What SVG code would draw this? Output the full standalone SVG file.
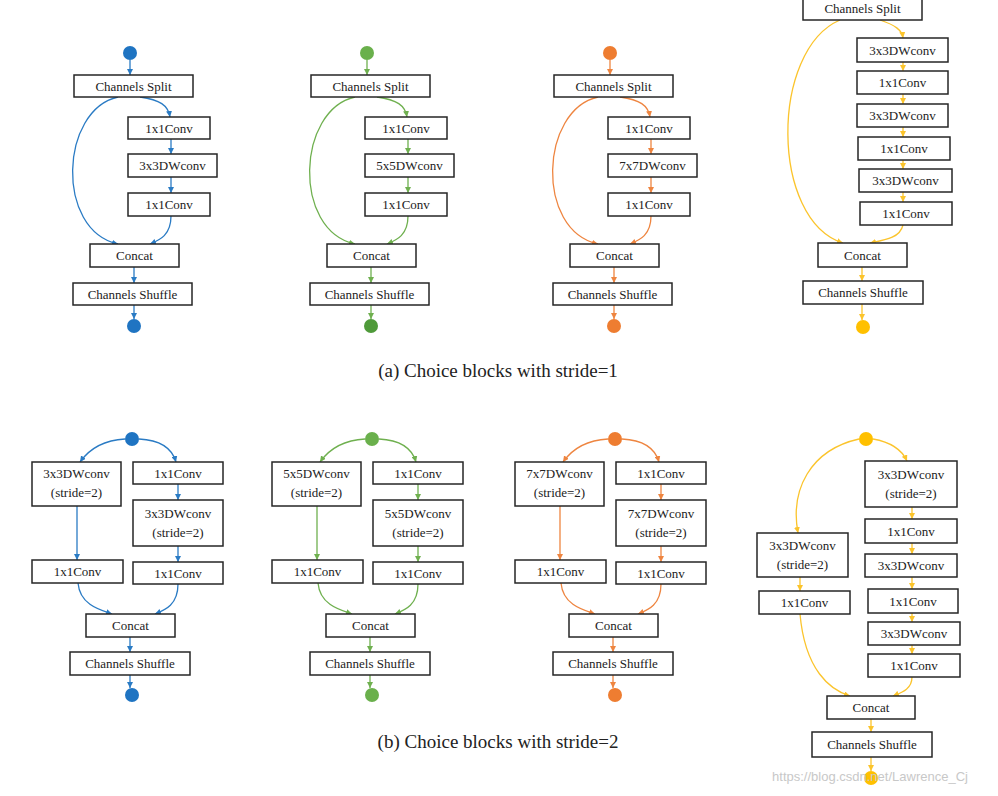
<svg xmlns="http://www.w3.org/2000/svg" width="998" height="796" viewBox="0 0 998 796">
<style>
.b rect{fill:#fff;stroke:#262626;stroke-width:1.5}
text{font-family:"Liberation Serif",serif;font-size:13px;text-anchor:middle;fill:#222}
.cap{font-size:19px}
.c path,.c line{fill:none;stroke-width:1.3}
.blue{stroke:#2a7bc4;marker-end:url(#mb)}
.green{stroke:#6fb04f;marker-end:url(#mg)}
.orange{stroke:#ee8540;marker-end:url(#mo)}
.yellow{stroke:#fbc42c;marker-end:url(#my)}
</style>
<defs>
<marker id="mb" viewBox="0 0 6 6" refX="6" refY="3" markerWidth="6" markerHeight="6" markerUnits="userSpaceOnUse" orient="auto"><path d="M0,0L6,3L0,6z" fill="#2a7bc4"/></marker>
<marker id="mg" viewBox="0 0 6 6" refX="6" refY="3" markerWidth="6" markerHeight="6" markerUnits="userSpaceOnUse" orient="auto"><path d="M0,0L6,3L0,6z" fill="#6fb04f"/></marker>
<marker id="mo" viewBox="0 0 6 6" refX="6" refY="3" markerWidth="6" markerHeight="6" markerUnits="userSpaceOnUse" orient="auto"><path d="M0,0L6,3L0,6z" fill="#ee8540"/></marker>
<marker id="my" viewBox="0 0 6 6" refX="6" refY="3" markerWidth="6" markerHeight="6" markerUnits="userSpaceOnUse" orient="auto"><path d="M0,0L6,3L0,6z" fill="#fbc42c"/></marker>
</defs>
<rect width="998" height="796" fill="#fff"/>

<!-- connectors -->
<g id="connectors" class="c">
<g id="conn-a1">
<line class="blue" x1="130" y1="60" x2="130" y2="75"/>
<path class="blue" d="M118,97 C60,110 55,230 118,244"/>
<path class="blue" d="M140,97 C160,100 168,105 170,117"/>
<line class="blue" x1="171" y1="139" x2="171" y2="154"/>
<line class="blue" x1="171" y1="177" x2="171" y2="193"/>
<path class="blue" d="M171,216 C171,235 160,240 150,244"/>
<line class="blue" x1="134" y1="267" x2="134" y2="283"/>
<line class="blue" x1="134" y1="305" x2="134" y2="319"/>
</g>
<g id="conn-a2" transform="translate(237,0)">
<line class="green" x1="130" y1="60" x2="130" y2="75"/>
<path class="green" d="M118,97 C60,110 55,230 118,244"/>
<path class="green" d="M140,97 C160,100 168,105 170,117"/>
<line class="green" x1="171" y1="139" x2="171" y2="154"/>
<line class="green" x1="171" y1="177" x2="171" y2="193"/>
<path class="green" d="M171,216 C171,235 160,240 150,244"/>
<line class="green" x1="134" y1="267" x2="134" y2="283"/>
<line class="green" x1="134" y1="305" x2="134" y2="319"/>
</g>
<g id="conn-a3" transform="translate(480,0)">
<line class="orange" x1="130" y1="60" x2="130" y2="75"/>
<path class="orange" d="M118,97 C60,110 55,230 118,244"/>
<path class="orange" d="M140,97 C160,100 168,105 170,117"/>
<line class="orange" x1="171" y1="139" x2="171" y2="154"/>
<line class="orange" x1="171" y1="177" x2="171" y2="193"/>
<path class="orange" d="M171,216 C171,235 160,240 150,244"/>
<line class="orange" x1="134" y1="267" x2="134" y2="283"/>
<line class="orange" x1="134" y1="305" x2="134" y2="319"/>
</g>
<g id="conn-a4">
<path class="yellow" d="M840,20 C770,50 770,220 843,243"/>
<path class="yellow" d="M880,20 C895,25 902,30 903,38"/>
<line class="yellow" x1="903" y1="62" x2="903" y2="71"/>
<line class="yellow" x1="903" y1="94" x2="903" y2="104"/>
<line class="yellow" x1="903" y1="127" x2="903" y2="137"/>
<line class="yellow" x1="903" y1="160" x2="903" y2="169"/>
<line class="yellow" x1="903" y1="192" x2="903" y2="202"/>
<path class="yellow" d="M903,225 C900,238 885,240 870,243"/>
<line class="yellow" x1="862" y1="267" x2="862" y2="281"/>
<line class="yellow" x1="862" y1="304" x2="862" y2="320"/>
</g>
<g id="conn-b1">
<path class="blue" d="M125,439 C105,440 90,448 80,462"/>
<path class="blue" d="M139,439 C160,440 172,448 176,462"/>
<line class="blue" x1="77" y1="506" x2="77" y2="560"/>
<line class="blue" x1="178" y1="484" x2="178" y2="500"/>
<line class="blue" x1="178" y1="546" x2="178" y2="562"/>
<path class="blue" d="M78,583 C80,605 100,610 112,614"/>
<path class="blue" d="M178,584 C178,605 165,610 155,614"/>
<line class="blue" x1="130" y1="637" x2="130" y2="652"/>
<line class="blue" x1="130" y1="675" x2="130" y2="688"/>
</g>
<g id="conn-b2" transform="translate(240,0)">
<path class="green" d="M125,439 C105,440 90,448 80,462"/>
<path class="green" d="M139,439 C160,440 172,448 176,462"/>
<line class="green" x1="77" y1="506" x2="77" y2="560"/>
<line class="green" x1="178" y1="484" x2="178" y2="500"/>
<line class="green" x1="178" y1="546" x2="178" y2="562"/>
<path class="green" d="M78,583 C80,605 100,610 112,614"/>
<path class="green" d="M178,584 C178,605 165,610 155,614"/>
<line class="green" x1="130" y1="637" x2="130" y2="652"/>
<line class="green" x1="130" y1="675" x2="130" y2="688"/>
</g>
<g id="conn-b3" transform="translate(483,0)">
<path class="orange" d="M125,439 C105,440 90,448 80,462"/>
<path class="orange" d="M139,439 C160,440 172,448 176,462"/>
<line class="orange" x1="77" y1="506" x2="77" y2="560"/>
<line class="orange" x1="178" y1="484" x2="178" y2="500"/>
<line class="orange" x1="178" y1="546" x2="178" y2="562"/>
<path class="orange" d="M78,583 C80,605 100,610 112,614"/>
<path class="orange" d="M178,584 C178,605 165,610 155,614"/>
<line class="orange" x1="130" y1="637" x2="130" y2="652"/>
<line class="orange" x1="130" y1="675" x2="130" y2="688"/>
</g>
<g id="conn-b4">
<path class="yellow" d="M859,439 C810,450 790,490 798,533"/>
<line class="yellow" x1="800" y1="577" x2="800" y2="591"/>
<path class="yellow" d="M800,614 C805,670 830,690 850,696"/>
<path class="yellow" d="M873,439 C890,442 902,450 907,461"/>
<line class="yellow" x1="912" y1="507" x2="912" y2="519"/>
<line class="yellow" x1="912" y1="543" x2="912" y2="554"/>
<line class="yellow" x1="912" y1="577" x2="912" y2="589"/>
<line class="yellow" x1="912" y1="613" x2="912" y2="622"/>
<line class="yellow" x1="912" y1="645" x2="912" y2="654"/>
<path class="yellow" d="M912,677 C912,690 900,693 893,696"/>
<line class="yellow" x1="871" y1="719" x2="871" y2="732"/>
<line class="yellow" x1="871" y1="757" x2="871" y2="771"/>
</g>
</g>

<!-- block a1 -->
<g id="a1" class="b">
<circle cx="130" cy="53" r="7" fill="#1f74c2"/>
<rect x="74" y="75" width="119" height="22"/><text x="133.5" y="91">Channels Split</text>
<rect x="128" y="117" width="82" height="22"/><text x="169" y="133">1x1Conv</text>
<rect x="128" y="154" width="89" height="23"/><text x="172.5" y="170">3x3DWconv</text>
<rect x="128" y="193" width="82" height="23"/><text x="169" y="209">1x1Conv</text>
<rect x="90" y="244" width="89" height="23"/><text x="134.5" y="260">Concat</text>
<rect x="73" y="283" width="119" height="22"/><text x="132.5" y="299">Channels Shuffle</text>
<circle cx="134" cy="326" r="7" fill="#1f74c2"/>
</g>
<g id="a2" class="b" transform="translate(237,0)">
<circle cx="130" cy="53" r="7" fill="#6ab04c"/>
<rect x="74" y="75" width="119" height="22"/><text x="133.5" y="91">Channels Split</text>
<rect x="128" y="117" width="82" height="22"/><text x="169" y="133">1x1Conv</text>
<rect x="128" y="154" width="89" height="23"/><text x="172.5" y="170">5x5DWconv</text>
<rect x="128" y="193" width="82" height="23"/><text x="169" y="209">1x1Conv</text>
<rect x="90" y="244" width="89" height="23"/><text x="134.5" y="260">Concat</text>
<rect x="73" y="283" width="119" height="22"/><text x="132.5" y="299">Channels Shuffle</text>
<circle cx="134" cy="326" r="7" fill="#4f9a3a"/>
</g>
<g id="a3" class="b" transform="translate(480,0)">
<circle cx="130" cy="53" r="7" fill="#ee7d31"/>
<rect x="74" y="75" width="119" height="22"/><text x="133.5" y="91">Channels Split</text>
<rect x="128" y="117" width="82" height="22"/><text x="169" y="133">1x1Conv</text>
<rect x="128" y="154" width="89" height="23"/><text x="172.5" y="170">7x7DWconv</text>
<rect x="128" y="193" width="82" height="23"/><text x="169" y="209">1x1Conv</text>
<rect x="90" y="244" width="89" height="23"/><text x="134.5" y="260">Concat</text>
<rect x="73" y="283" width="119" height="22"/><text x="132.5" y="299">Channels Shuffle</text>
<circle cx="134" cy="326" r="7" fill="#ee7d31"/>
</g>
<g id="a4" class="b">
<rect x="803" y="-4" width="119" height="24"/><text x="862.5" y="13">Channels Split</text>
<rect x="857" y="38" width="91" height="24"/><text x="902.5" y="55">3x3DWconv</text>
<rect x="857" y="71" width="91" height="23"/><text x="902.5" y="87">1x1Conv</text>
<rect x="857" y="104" width="91" height="23"/><text x="902.5" y="120">3x3DWconv</text>
<rect x="858" y="137" width="92" height="23"/><text x="904" y="153">1x1Conv</text>
<rect x="859" y="169" width="93" height="23"/><text x="905.5" y="185">3x3DWconv</text>
<rect x="860" y="202" width="92" height="23"/><text x="906" y="218">1x1Conv</text>
<rect x="818" y="243" width="89" height="24"/><text x="862.5" y="260">Concat</text>
<rect x="803" y="281" width="120" height="23"/><text x="863" y="297">Channels Shuffle</text>
<circle cx="863" cy="327" r="7" fill="#ffc000"/>
</g>
<text class="cap" x="498" y="377">(a) Choice blocks with stride=1</text>

<g id="b1" class="b">
<circle cx="132" cy="439" r="7" fill="#1f74c2"/>
<rect x="32" y="462" width="89" height="44"/><text x="76.5" y="478">3x3DWconv</text><text x="76.5" y="497">(stride=2)</text>
<rect x="133" y="462" width="90" height="22"/><text x="178" y="478">1x1Conv</text>
<rect x="133" y="500" width="90" height="46"/><text x="178" y="518">3x3DWconv</text><text x="178" y="537">(stride=2)</text>
<rect x="32" y="560" width="91" height="23"/><text x="77.5" y="576">1x1Conv</text>
<rect x="133" y="562" width="90" height="22"/><text x="178" y="578">1x1Conv</text>
<rect x="86" y="614" width="89" height="23"/><text x="130.5" y="630">Concat</text>
<rect x="70" y="652" width="120" height="23"/><text x="130" y="668">Channels Shuffle</text>
<circle cx="132" cy="695" r="7" fill="#1f74c2"/>
</g>
<g id="b2" class="b" transform="translate(240,0)">
<circle cx="132" cy="439" r="7" fill="#6ab04c"/>
<rect x="32" y="462" width="89" height="44"/><text x="76.5" y="478">5x5DWconv</text><text x="76.5" y="497">(stride=2)</text>
<rect x="133" y="462" width="90" height="22"/><text x="178" y="478">1x1Conv</text>
<rect x="133" y="500" width="90" height="46"/><text x="178" y="518">5x5DWconv</text><text x="178" y="537">(stride=2)</text>
<rect x="32" y="560" width="91" height="23"/><text x="77.5" y="576">1x1Conv</text>
<rect x="133" y="562" width="90" height="22"/><text x="178" y="578">1x1Conv</text>
<rect x="86" y="614" width="89" height="23"/><text x="130.5" y="630">Concat</text>
<rect x="70" y="652" width="120" height="23"/><text x="130" y="668">Channels Shuffle</text>
<circle cx="132" cy="695" r="7" fill="#6ab04c"/>
</g>
<g id="b3" class="b" transform="translate(483,0)">
<circle cx="132" cy="439" r="7" fill="#ee7d31"/>
<rect x="32" y="462" width="89" height="44"/><text x="76.5" y="478">7x7DWconv</text><text x="76.5" y="497">(stride=2)</text>
<rect x="133" y="462" width="90" height="22"/><text x="178" y="478">1x1Conv</text>
<rect x="133" y="500" width="90" height="46"/><text x="178" y="518">7x7DWconv</text><text x="178" y="537">(stride=2)</text>
<rect x="32" y="560" width="91" height="23"/><text x="77.5" y="576">1x1Conv</text>
<rect x="133" y="562" width="90" height="22"/><text x="178" y="578">1x1Conv</text>
<rect x="86" y="614" width="89" height="23"/><text x="130.5" y="630">Concat</text>
<rect x="70" y="652" width="120" height="23"/><text x="130" y="668">Channels Shuffle</text>
<circle cx="132" cy="695" r="7" fill="#ee7d31"/>
</g>
<g id="b4" class="b">
<circle cx="866" cy="439" r="7" fill="#ffc000"/>
<rect x="865" y="461" width="92" height="46"/><text x="911" y="479">3x3DWconv</text><text x="911" y="498">(stride=2)</text>
<rect x="865" y="519" width="92" height="24"/><text x="911" y="536">1x1Conv</text>
<rect x="865" y="554" width="92" height="23"/><text x="911" y="570">3x3DWconv</text>
<rect x="868" y="589" width="90" height="24"/><text x="913" y="606">1x1Conv</text>
<rect x="868" y="622" width="92" height="23"/><text x="914" y="638">3x3DWconv</text>
<rect x="868" y="654" width="92" height="23"/><text x="914" y="670">1x1Conv</text>
<rect x="757" y="533" width="91" height="44"/><text x="802.5" y="550">3x3DWconv</text><text x="802.5" y="569">(stride=2)</text>
<rect x="759" y="591" width="91" height="23"/><text x="804.5" y="607">1x1Conv</text>
<rect x="827" y="696" width="88" height="23"/><text x="871" y="712">Concat</text>
<rect x="812" y="732" width="120" height="25"/><text x="872" y="749">Channels Shuffle</text>
<circle cx="871" cy="778" r="7" fill="#ffc000"/>
</g>
<text class="cap" x="498" y="748">(b) Choice blocks with stride=2</text>
<text x="870" y="781" style="font-family:'Liberation Sans',sans-serif;font-size:13px;fill:#c8c8c8">https://blog.csdn.net/Lawrence_Cj</text>
</svg>
